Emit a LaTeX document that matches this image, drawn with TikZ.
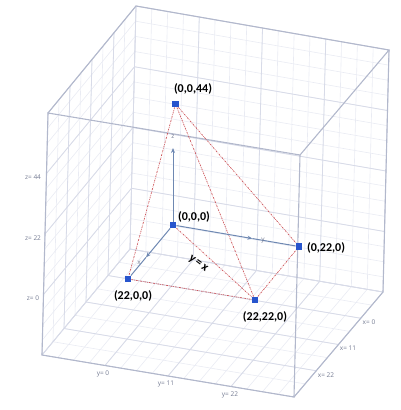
\documentclass[tikz,border=0pt]{standalone}
\usepackage{fontspec}
\setmainfont{Carlito}
\newfontfamily\tickfont{Open Sans}
\usetikzlibrary{calc,arrows.meta}
\definecolor{boxline}{RGB}{178,184,204}
\definecolor{gridmin}{RGB}{233,235,243}
\definecolor{gridmaj}{RGB}{216,219,232}
\definecolor{axisblue}{RGB}{110,136,178}
\definecolor{ptblue}{RGB}{40,85,205}
\definecolor{guidered}{RGB}{205,85,90}
\definecolor{ticktext}{RGB}{115,122,145}

\begin{document}
\begin{tikzpicture}[x=1pt,y=-1pt,
    wire/.style={boxline,line width=1.1pt},
    minorgrid/.style={gridmin,line width=0.6pt},
    majorgrid/.style={gridmaj,line width=0.8pt},
    axis/.style={axisblue,line width=1pt},
    guide/.style={guidered,line width=0.7pt,dash pattern=on 1.8pt off 1pt on 0.6pt off 1pt},
    pt/.style={fill=ptblue,draw=none,minimum size=6.5pt,inner sep=0pt},
    lab/.style={font=\bfseries\fontsize{12}{12}\selectfont},
    ticklab/.style={text=ticktext,font=\tickfont\fontsize{6.5}{7}\selectfont,inner sep=0pt}]
  \useasboundingbox (0,0) rectangle (400,410);
  % box corners (front face F, back face B)
  \coordinate (F1) at (48,113);  \coordinate (F2) at (300,155);
  \coordinate (F3) at (294,397); \coordinate (F4) at (42,355);
  \coordinate (B1) at (136,6);   \coordinate (B2) at (389,50);
  \coordinate (B3) at (383,292); \coordinate (B4) at (130,249);
  % minor grid on the three back walls
  \foreach \i in {0,...,16}{
    \draw[minorgrid] ($(B1)!\i/16!(B2)$) -- ($(B4)!\i/16!(B3)$);
    \draw[minorgrid] ($(B1)!\i/16!(B4)$) -- ($(B2)!\i/16!(B3)$);
    \draw[minorgrid] ($(F1)!\i/16!(F4)$) -- ($(B1)!\i/16!(B4)$);
    \draw[minorgrid] ($(F4)!\i/16!(F3)$) -- ($(B4)!\i/16!(B3)$);}
  \foreach \i in {0,...,8}{
    \draw[minorgrid] ($(F1)!\i/8!(B1)$) -- ($(F4)!\i/8!(B4)$);
    \draw[minorgrid] ($(F4)!\i/8!(B4)$) -- ($(F3)!\i/8!(B3)$);}
  % major grid
  \foreach \i in {0,4,...,16}{
    \draw[majorgrid] ($(B1)!\i/16!(B2)$) -- ($(B4)!\i/16!(B3)$);
    \draw[majorgrid] ($(B1)!\i/16!(B4)$) -- ($(B2)!\i/16!(B3)$);
    \draw[majorgrid] ($(F1)!\i/16!(F4)$) -- ($(B1)!\i/16!(B4)$);
    \draw[majorgrid] ($(F4)!\i/16!(F3)$) -- ($(B4)!\i/16!(B3)$);}
  \foreach \i in {0,2,...,8}{
    \draw[majorgrid] ($(F1)!\i/8!(B1)$) -- ($(F4)!\i/8!(B4)$);
    \draw[majorgrid] ($(F4)!\i/8!(B4)$) -- ($(F3)!\i/8!(B3)$);}
  % outer box
  \draw[wire] (F1) -- (F2) -- (F3) -- (F4) -- cycle;
  \draw[wire] (F1) -- (B1) -- (B2) -- (F2);
  \draw[wire] (B2) -- (B3) -- (F3);
  % tick labels
  \node[ticklab] (tz44) at (33,177) {z= 44};
  \node[ticklab] (tz22) at (33,238) {z= 22};
  \node[ticklab] (tz0) at (33,298) {z= 0};
  \node[ticklab] (ty0) at (103,374) {y= 0};
  \node[ticklab] (ty11) at (166,384) {y= 11};
  \node[ticklab] (ty22) at (230,395) {y= 22};
  \node[ticklab] (tx0) at (369,322) {x= 0};
  \node[ticklab] (tx11) at (348,348) {x= 11};
  \node[ticklab] (tx22) at (326,375) {x= 22};
  % points
  \node[pt] (p0) at (173,225) {};
  \node[pt] (px) at (128,279) {};
  \node[pt] (py) at (299,246.5) {};
  \node[pt] (pxy) at (255,300) {};
  \node[pt] (pz) at (175.5,104) {};
  % pyramid edges
  \draw[guide] (pz) -- (px);
  \draw[guide] (pz) -- (pxy);
  \draw[guide] (pz) -- (py);
  \draw[guide] (px) -- (pxy);
  \draw[guide] (pxy) -- (py);
  \draw[guide] (p0) -- (pxy);
  % axes
  \coordinate (ztip) at (173,148);
  \coordinate (xarr) at ($(p0)!0.6!(px)$);
  \coordinate (yarr) at ($(p0)!0.63!(py)$);
  \draw[axis,-{Stealth[length=5pt,width=4pt]}] (p0) -- (ztip);
  \draw[axis,-{Stealth[length=5pt,width=4pt]}] (p0) -- (xarr);
  \draw[axis] (xarr) -- (px);
  \draw[axis,-{Stealth[length=5pt,width=4pt]}] (p0) -- (yarr);
  \draw[axis] (yarr) -- (py);
  \node[ticklab] (lz) at (173,137) {z};
  \node[ticklab] (lx) at (139,263) {x};
  \node[ticklab] (ly) at (263,241) {y};
  % labels
  \node[lab] (tpz) at (193,89) {(0,0,44)};
  \node[lab] (tp0) at (194,217) {(0,0,0)};
  \node[lab] (tpx) at (133,296) {(22,0,0)};
  \node[lab] (tpy) at (326,248) {(0,22,0)};
  \node[lab] (tpxy) at (265,317) {(22,22,0)};
  \node[lab,rotate=-37] (tyx) at (198,264) {y\,=\,x};
\end{tikzpicture}
\end{document}
